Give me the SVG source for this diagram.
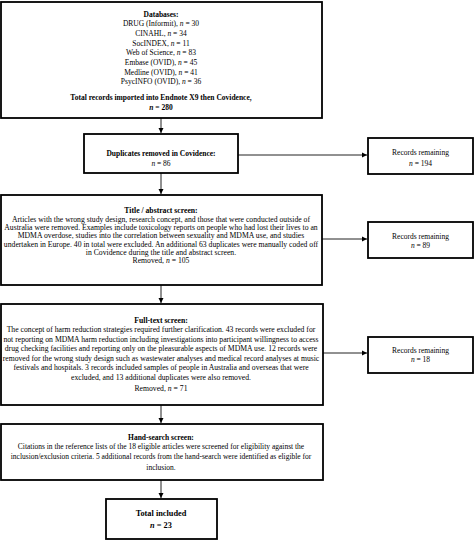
<svg xmlns="http://www.w3.org/2000/svg" width="474" height="540" viewBox="0 0 474 540">
<style>
.box{fill:#fff;stroke:#000;stroke-width:1.8}
.t{font-family:"Liberation Serif","Times New Roman",serif;font-size:7.5px;fill:#000;text-anchor:middle}
.w{font-size:7.7px}
.b{font-weight:bold}
.i{font-style:italic}
.c{fill:none;stroke:#222;stroke-width:1}
</style>
<defs>
<marker id="ah" markerWidth="6" markerHeight="6" refX="5" refY="3" orient="auto" markerUnits="userSpaceOnUse">
<path d="M0,0.5 L5,3 L0,5.5 z" fill="#000"/>
</marker>
</defs>
<rect width="474" height="540" fill="#fff"/>
<g id="connectors">
<line class="c" x1="161" y1="118" x2="161" y2="133" marker-end="url(#ah)"/>
<line class="c" x1="161" y1="173" x2="161" y2="194" marker-end="url(#ah)"/>
<line class="c" x1="161" y1="285" x2="161" y2="303" marker-end="url(#ah)"/>
<line class="c" x1="161" y1="405" x2="161" y2="423" marker-end="url(#ah)"/>
<line class="c" x1="161" y1="480" x2="161" y2="498" marker-end="url(#ah)"/>
<line class="c" x1="238" y1="155" x2="367" y2="155" marker-end="url(#ah)"/>
<line class="c" x1="322" y1="239" x2="367" y2="239" marker-end="url(#ah)"/>
<line class="c" x1="323" y1="353" x2="367" y2="353" marker-end="url(#ah)"/>
</g>
<g id="databases">
<rect class="box" x="1" y="2" width="321" height="116"/>
<text class="t b" x="161" y="16.5">Databases:</text>
<text class="t" x="161" y="26.2">DRUG (Informit), <tspan class="i">n</tspan> = 30</text>
<text class="t" x="161" y="35.9">CINAHL, <tspan class="i">n</tspan> = 34</text>
<text class="t" x="161" y="45.6">SocINDEX, <tspan class="i">n</tspan> = 11</text>
<text class="t" x="161" y="55.3">Web of Science, <tspan class="i">n</tspan> = 83</text>
<text class="t" x="161" y="65">Embase (OVID), <tspan class="i">n</tspan> = 45</text>
<text class="t" x="161" y="74.7">Medline (OVID), <tspan class="i">n</tspan> = 41</text>
<text class="t" x="161" y="84.4">PsycINFO (OVID), <tspan class="i">n</tspan> = 36</text>
<text class="t b" x="161" y="99.5">Total records imported into Endnote X9 then Covidence,</text>
<text class="t b" x="161" y="109.5"><tspan class="i">n</tspan> = 280</text>
</g>
<g id="duplicates">
<rect class="box" x="84" y="134" width="154" height="39"/>
<text class="t b" x="161" y="155.8">Duplicates removed in Covidence:</text>
<text class="t" x="161" y="165.8"><tspan class="i">n</tspan> = 86</text>
</g>
<g id="remaining194">
<rect class="box" x="368" y="138" width="105" height="36"/>
<text class="t" x="420.5" y="155.2">Records remaining</text>
<text class="t" x="420.5" y="165.8"><tspan class="i">n</tspan> = 194</text>
</g>
<g id="title-abstract">
<rect class="box" x="1" y="195" width="321" height="90"/>
<text class="t w b" x="161" y="213.2">Title / abstract screen:</text>
<text class="t w" x="161" y="221.8">Articles with the wrong study design, research concept, and those that were conducted outside of</text>
<text class="t w" x="161" y="230">Australia were removed. Examples include toxicology reports on people who had lost their lives to an</text>
<text class="t w" x="161" y="238.3">MDMA overdose, studies into the correlation between sexuality and MDMA use, and studies</text>
<text class="t w" x="161" y="246.6">undertaken in Europe. 40 in total were excluded. An additional 63 duplicates were manually coded off</text>
<text class="t w" x="161" y="254.9">in Covidence during the title and abstract screen.</text>
<text class="t w" x="161" y="263.2">Removed, <tspan class="i">n</tspan> = 105</text>
</g>
<g id="remaining89">
<rect class="box" x="368" y="222" width="105" height="36"/>
<text class="t" x="420.5" y="238.5">Records remaining</text>
<text class="t" x="420.5" y="247.5"><tspan class="i">n</tspan> = 89</text>
</g>
<g id="full-text">
<rect class="box" x="1" y="304" width="322" height="101"/>
<text class="t w b" x="161" y="322.5">Full-text screen:</text>
<text class="t w" x="161" y="332.2">The concept of harm reduction strategies required further clarification. 43 records were excluded for</text>
<text class="t w" x="161" y="341.7">not reporting on MDMA harm reduction including investigations into participant willingness to access</text>
<text class="t w" x="161" y="351.2">drug checking facilities and reporting only on the pleasurable aspects of MDMA use. 12 records were</text>
<text class="t w" x="161" y="360.7">removed for the wrong study design such as wastewater analyses and medical record analyses at music</text>
<text class="t w" x="161" y="370.2">festivals and hospitals. 3 records included samples of people in Australia and overseas that were</text>
<text class="t w" x="161" y="380">excluded, and 13 additional duplicates were also removed.</text>
<text class="t w" x="161" y="390.5">Removed, <tspan class="i">n</tspan> = 71</text>
</g>
<g id="remaining18">
<rect class="box" x="368" y="337" width="105" height="36"/>
<text class="t" x="420.5" y="353.2">Records remaining</text>
<text class="t" x="420.5" y="361.8"><tspan class="i">n</tspan> = 18</text>
</g>
<g id="hand-search">
<rect class="box" x="1" y="424" width="322" height="56"/>
<text class="t b" x="161" y="440.2">Hand-search screen:</text>
<text class="t" x="161" y="449.2">Citations in the reference lists of the 18 eligible articles were screened for eligibility against the</text>
<text class="t" x="161" y="459.2">inclusion/exclusion criteria. 5 additional records from the hand-search were identified as eligible for</text>
<text class="t" x="161" y="469.8">inclusion.</text>
</g>
<g id="total">
<rect class="box" x="106" y="499" width="111" height="40"/>
<text class="t b" x="161" y="515.7" style="font-size:8.3px">Total included</text>
<text class="t b" x="161" y="528" style="font-size:8.3px"><tspan class="i">n</tspan> = 23</text>
</g>
</svg>
